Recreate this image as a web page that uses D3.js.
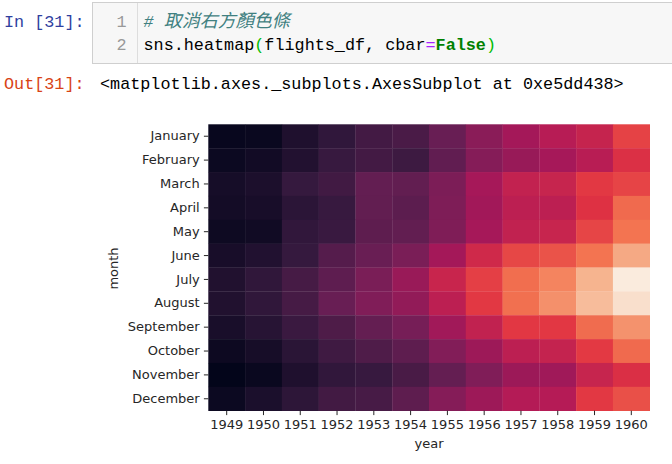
<!DOCTYPE html>
<html>
<head>
<meta charset="utf-8">
<script src="https://cdn.jsdelivr.net/npm/d3@7"></script>
<style>
  body { margin: 0; background: #fff; }
  svg { display: block; }
</style>
</head>
<body>
<div id="chart"></div>
<script>
// Data: flights passengers (month x year)
const months = ["January", "February", "March", "April", "May", "June",
  "July", "August", "September", "October", "November", "December"];
const years = ["1949", "1950", "1951", "1952", "1953", "1954",
  "1955", "1956", "1957", "1958", "1959", "1960"];
const passengers = [
  [112, 115, 145, 171, 196, 204, 242, 284, 315, 340, 360, 417],
  [118, 126, 150, 180, 196, 188, 233, 277, 301, 318, 342, 391],
  [132, 141, 178, 193, 236, 235, 267, 317, 356, 362, 406, 419],
  [129, 135, 163, 181, 235, 227, 269, 313, 348, 348, 396, 461],
  [121, 125, 172, 183, 229, 234, 270, 318, 355, 363, 420, 472],
  [135, 149, 178, 218, 243, 264, 315, 374, 422, 435, 472, 535],
  [148, 170, 199, 230, 264, 302, 364, 413, 465, 491, 548, 622],
  [148, 170, 199, 242, 272, 293, 347, 405, 467, 505, 559, 606],
  [136, 158, 184, 209, 237, 259, 312, 355, 404, 404, 463, 508],
  [119, 133, 162, 191, 211, 229, 274, 306, 347, 359, 407, 461],
  [104, 114, 146, 172, 180, 203, 237, 271, 305, 310, 362, 390],
  [118, 140, 166, 194, 201, 229, 278, 306, 336, 337, 405, 432]
];

// rocket colormap anchor colours
const rocketStops = [0, 1/7, 2/7, 3/7, 4/7, 5/7, 6/7, 1];
const rocketColors = ["#03051a", "#35193e", "#701f57", "#ad1759",
  "#e13342", "#f37651", "#f6b48f", "#faebdd"];

const svg = d3.select("#chart")
  .append("svg")
  .attr("width", 672)
  .attr("height", 464);

const mono = "'Liberation Mono', 'DejaVu Sans Mono', monospace";
const monoSize = 16.8;

// Notebook input cell
svg.append("text")
  .attr("x", 4)
  .attr("y", 27.3)
  .attr("font-family", mono)
  .attr("font-size", monoSize)
  .attr("fill", "#303f9f")
  .text("In [31]:");

svg.append("rect")
  .attr("x", 92.5)
  .attr("y", 2.5)
  .attr("width", 600)
  .attr("height", 61)
  .attr("fill", "#f7f7f7")
  .attr("stroke", "#cfcfcf");

svg.append("line")
  .attr("x1", 137.5).attr("x2", 137.5)
  .attr("y1", 3).attr("y2", 63)
  .attr("stroke", "#dddddd");

["1", "2"].forEach((n, i) => {
  svg.append("text")
    .attr("x", 126.5)
    .attr("y", 27.3 + i * 22.7)
    .attr("text-anchor", "end")
    .attr("font-family", mono)
    .attr("font-size", monoSize)
    .attr("fill", "#999999")
    .text(n);
});

const line1 = svg.append("text")
  .attr("x", 143.5)
  .attr("y", 27.3)
  .attr("font-family", mono)
  .attr("font-size", monoSize)
  .attr("font-style", "italic")
  .attr("fill", "#408080");
line1.append("tspan").text("# ");
line1.append("tspan")
  .attr("font-family", "'Noto Sans CJK TC', sans-serif")
  .attr("font-size", 18)
  .text("取消右方顏色條");

const line2 = svg.append("text")
  .attr("x", 143.5)
  .attr("y", 50)
  .attr("font-family", mono)
  .attr("font-size", monoSize)
  .attr("fill", "#000");
line2.append("tspan").text("sns.heatmap");
line2.append("tspan").attr("fill", "#00bb00").text("(");
line2.append("tspan").text("flights_df, cbar");
line2.append("tspan").attr("fill", "#aa22ff").text("=");
line2.append("tspan").attr("fill", "#008000").attr("font-weight", "bold").text("False");
line2.append("tspan").attr("fill", "#00bb00").text(")");

// Output line
svg.append("text")
  .attr("x", 4)
  .attr("y", 88.5)
  .attr("font-family", mono)
  .attr("font-size", monoSize)
  .attr("fill", "#d84315")
  .text("Out[31]:");

svg.append("text")
  .attr("x", 100)
  .attr("y", 88.5)
  .attr("font-family", mono)
  .attr("font-size", monoSize)
  .attr("fill", "#000")
  .text("<matplotlib.axes._subplots.AxesSubplot at 0xe5dd438>");

// Heatmap
const flat = passengers.flat();
const vmin = d3.min(flat);
const vmax = d3.max(flat);

const x = d3.scaleBand().domain(years).range([208.3, 649.7]);
const y = d3.scaleBand().domain(months).range([124.3, 410.7]);
const color = d3.scaleLinear()
  .domain(rocketStops.map(t => vmin + t * (vmax - vmin)))
  .range(rocketColors)
  .interpolate(d3.interpolateRgb);

const cells = [];
months.forEach((m, i) => {
  years.forEach((yr, j) => {
    cells.push({ month: m, year: yr, value: passengers[i][j] });
  });
});

svg.append("g")
  .selectAll("rect")
  .data(cells)
  .join("rect")
  .attr("x", d => x(d.year))
  .attr("y", d => y(d.month))
  .attr("width", x.bandwidth() + 0.3)
  .attr("height", y.bandwidth() + 0.3)
  .attr("fill", d => color(d.value));

const labelFont = "'DejaVu Sans', sans-serif";
const textColor = "#262626";

const yAxis = svg.append("g")
  .attr("transform", "translate(208.3,0)")
  .call(d3.axisLeft(y).tickSize(4.4).tickPadding(4.2));
const xAxis = svg.append("g")
  .attr("transform", "translate(0,410.7)")
  .call(d3.axisBottom(x).tickSize(4.4).tickPadding(4.2));

[xAxis, yAxis].forEach(g => {
  g.select(".domain").remove();
  g.selectAll(".tick line").attr("stroke", textColor).attr("stroke-width", 1);
  g.selectAll(".tick text")
    .attr("font-family", labelFont)
    .attr("font-size", 13)
    .attr("fill", textColor);
});

svg.append("text")
  .attr("x", 429)
  .attr("y", 448)
  .attr("text-anchor", "middle")
  .attr("font-family", labelFont)
  .attr("font-size", 13)
  .attr("fill", textColor)
  .text("year");

svg.append("text")
  .attr("transform", "translate(118,268.5) rotate(-90)")
  .attr("text-anchor", "middle")
  .attr("font-family", labelFont)
  .attr("font-size", 13)
  .attr("fill", textColor)
  .text("month");
</script>
</body>
</html>
